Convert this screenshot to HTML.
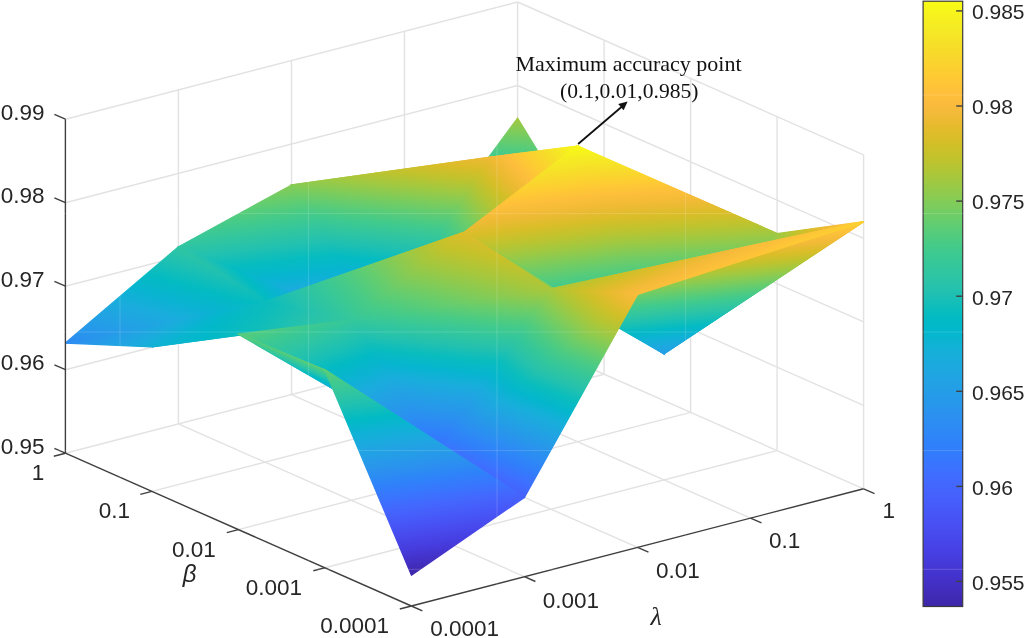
<!DOCTYPE html>
<html><head><meta charset="utf-8"><title>Accuracy surface</title>
<style>
html,body{margin:0;padding:0;background:#fff}
body{width:1025px;height:638px;overflow:hidden}
svg{display:block}
.g{stroke:#e2e2e2;stroke-width:1.4}
.a{stroke:#3f3f3f;stroke-width:1.4}
.t{font-family:"Liberation Sans",Arial,sans-serif;font-size:22.5px;fill:#262626}
.c{font-family:"Liberation Sans",Arial,sans-serif;font-size:21px;fill:#262626}
.s{font-family:"Liberation Serif","Times New Roman",serif;font-size:22px;fill:#111}
.mb{font-family:"Liberation Sans",Arial,sans-serif;font-style:italic;font-size:24px;fill:#262626}
.ml{font-family:"Liberation Serif","Times New Roman",serif;font-style:italic;font-size:26px;fill:#262626}
</style></head><body>
<svg width="1025" height="638" viewBox="0 0 1025 638">
<defs><linearGradient id="g1" gradientUnits="userSpaceOnUse" x1="404.5" y1="271.8" x2="416.9" y2="110.4"><stop offset="0.000" stop-color="#3975fe"/><stop offset="0.083" stop-color="#2e83f9"/><stop offset="0.167" stop-color="#2b90ef"/><stop offset="0.250" stop-color="#259de7"/><stop offset="0.333" stop-color="#1da8e0"/><stop offset="0.417" stop-color="#10b2d5"/><stop offset="0.500" stop-color="#01b9c6"/><stop offset="0.583" stop-color="#1abfb5"/><stop offset="0.667" stop-color="#2fc5a3"/><stop offset="0.750" stop-color="#3fca8e"/><stop offset="0.833" stop-color="#5dcc75"/><stop offset="0.917" stop-color="#7fcc5a"/><stop offset="1.000" stop-color="#a3c83f"/></linearGradient><linearGradient id="g2" gradientUnits="userSpaceOnUse" x1="404.5" y1="271.8" x2="406.8" y2="155.5"><stop offset="0.000" stop-color="#3975fe"/><stop offset="0.067" stop-color="#2e83f9"/><stop offset="0.133" stop-color="#2c90f0"/><stop offset="0.200" stop-color="#259ce7"/><stop offset="0.267" stop-color="#1ea7e1"/><stop offset="0.333" stop-color="#12b1d6"/><stop offset="0.400" stop-color="#01b9c7"/><stop offset="0.467" stop-color="#16bfb7"/><stop offset="0.533" stop-color="#2dc4a6"/><stop offset="0.600" stop-color="#3cc991"/><stop offset="0.667" stop-color="#57cc7a"/><stop offset="0.733" stop-color="#78cc5f"/><stop offset="0.800" stop-color="#9bc944"/><stop offset="0.867" stop-color="#bcc42f"/><stop offset="0.933" stop-color="#d9be28"/><stop offset="1.000" stop-color="#f0ba36"/></linearGradient><linearGradient id="g3" gradientUnits="userSpaceOnUse" x1="404.5" y1="271.8" x2="404.4" y2="157.3"><stop offset="0.000" stop-color="#3975fe"/><stop offset="0.067" stop-color="#2e83f9"/><stop offset="0.133" stop-color="#2c90f0"/><stop offset="0.200" stop-color="#259ce7"/><stop offset="0.267" stop-color="#1ea7e1"/><stop offset="0.333" stop-color="#12b1d6"/><stop offset="0.400" stop-color="#01b9c7"/><stop offset="0.467" stop-color="#16bfb7"/><stop offset="0.533" stop-color="#2dc4a6"/><stop offset="0.600" stop-color="#3cc991"/><stop offset="0.667" stop-color="#57cc7a"/><stop offset="0.733" stop-color="#78cc5f"/><stop offset="0.800" stop-color="#9bc944"/><stop offset="0.867" stop-color="#bcc42f"/><stop offset="0.933" stop-color="#d9be28"/><stop offset="1.000" stop-color="#f0ba36"/></linearGradient><linearGradient id="g4" gradientUnits="userSpaceOnUse" x1="378.0" y1="324.2" x2="395.4" y2="147.7"><stop offset="0.000" stop-color="#2d89f5"/><stop offset="0.071" stop-color="#2895ec"/><stop offset="0.143" stop-color="#23a1e5"/><stop offset="0.214" stop-color="#1babde"/><stop offset="0.286" stop-color="#0ab4d1"/><stop offset="0.357" stop-color="#03bbc3"/><stop offset="0.429" stop-color="#1ec0b2"/><stop offset="0.500" stop-color="#30c5a1"/><stop offset="0.571" stop-color="#40ca8d"/><stop offset="0.643" stop-color="#5dcc75"/><stop offset="0.714" stop-color="#7dcc5b"/><stop offset="0.786" stop-color="#9fc942"/><stop offset="0.857" stop-color="#bec32e"/><stop offset="0.929" stop-color="#dabd28"/><stop offset="1.000" stop-color="#f0ba36"/></linearGradient><linearGradient id="g5" gradientUnits="userSpaceOnUse" x1="378.0" y1="324.2" x2="360.2" y2="176.7"><stop offset="0.000" stop-color="#2d89f5"/><stop offset="0.100" stop-color="#2896ec"/><stop offset="0.200" stop-color="#22a1e4"/><stop offset="0.300" stop-color="#1aacdd"/><stop offset="0.400" stop-color="#07b5d0"/><stop offset="0.500" stop-color="#06bcc0"/><stop offset="0.600" stop-color="#22c1b0"/><stop offset="0.700" stop-color="#33c69e"/><stop offset="0.800" stop-color="#46cb88"/><stop offset="0.900" stop-color="#64cd6f"/><stop offset="1.000" stop-color="#86cb54"/></linearGradient><linearGradient id="g6" gradientUnits="userSpaceOnUse" x1="378.0" y1="324.2" x2="321.7" y2="383.3"><stop offset="0.000" stop-color="#2d89f5"/><stop offset="0.143" stop-color="#2895ec"/><stop offset="0.286" stop-color="#23a0e5"/><stop offset="0.429" stop-color="#1babde"/><stop offset="0.571" stop-color="#0ab4d2"/><stop offset="0.714" stop-color="#02bbc3"/><stop offset="0.857" stop-color="#1dc0b3"/><stop offset="1.000" stop-color="#30c5a2"/></linearGradient><linearGradient id="g7" gradientUnits="userSpaceOnUse" x1="65.4" y1="343.0" x2="97.1" y2="225.0"><stop offset="0.000" stop-color="#2d8bf3"/><stop offset="0.143" stop-color="#2797eb"/><stop offset="0.286" stop-color="#22a2e4"/><stop offset="0.429" stop-color="#1aacdd"/><stop offset="0.571" stop-color="#09b4d1"/><stop offset="0.714" stop-color="#03bbc2"/><stop offset="0.857" stop-color="#1dc0b3"/><stop offset="1.000" stop-color="#30c5a2"/></linearGradient><linearGradient id="g8" gradientUnits="userSpaceOnUse" x1="65.4" y1="343.0" x2="105.2" y2="404.7"><stop offset="0.000" stop-color="#2d8bf3"/><stop offset="0.200" stop-color="#2798ea"/><stop offset="0.400" stop-color="#21a3e3"/><stop offset="0.600" stop-color="#18addb"/><stop offset="0.800" stop-color="#05b6ce"/><stop offset="1.000" stop-color="#08bcbe"/></linearGradient><linearGradient id="g9" gradientUnits="userSpaceOnUse" x1="604.1" y1="259.8" x2="612.8" y2="168.8"><stop offset="0.000" stop-color="#2b91ef"/><stop offset="0.077" stop-color="#259ce7"/><stop offset="0.154" stop-color="#1ea8e1"/><stop offset="0.231" stop-color="#11b1d6"/><stop offset="0.308" stop-color="#01b9c7"/><stop offset="0.385" stop-color="#17bfb7"/><stop offset="0.462" stop-color="#2dc4a5"/><stop offset="0.538" stop-color="#3cc991"/><stop offset="0.615" stop-color="#58cc79"/><stop offset="0.692" stop-color="#79cc5e"/><stop offset="0.769" stop-color="#9cc944"/><stop offset="0.846" stop-color="#bcc42f"/><stop offset="0.923" stop-color="#d9be28"/><stop offset="1.000" stop-color="#f0ba36"/></linearGradient><linearGradient id="g10" gradientUnits="userSpaceOnUse" x1="690.6" y1="199.5" x2="695.6" y2="162.0"><stop offset="0.000" stop-color="#92ca4c"/><stop offset="0.125" stop-color="#b4c534"/><stop offset="0.250" stop-color="#d2bf27"/><stop offset="0.375" stop-color="#ebba32"/><stop offset="0.500" stop-color="#febe3c"/><stop offset="0.625" stop-color="#fdcc32"/><stop offset="0.750" stop-color="#f7dc2a"/><stop offset="0.875" stop-color="#f5eb23"/><stop offset="1.000" stop-color="#f9fa16"/></linearGradient><linearGradient id="g11" gradientUnits="userSpaceOnUse" x1="378.0" y1="324.2" x2="572.2" y2="140.4"><stop offset="0.000" stop-color="#2d89f5"/><stop offset="0.056" stop-color="#2896eb"/><stop offset="0.111" stop-color="#22a2e4"/><stop offset="0.167" stop-color="#19addc"/><stop offset="0.222" stop-color="#06b6ce"/><stop offset="0.278" stop-color="#09bcbe"/><stop offset="0.333" stop-color="#26c2ad"/><stop offset="0.389" stop-color="#35c79a"/><stop offset="0.444" stop-color="#4ccb83"/><stop offset="0.500" stop-color="#6ccd68"/><stop offset="0.556" stop-color="#90ca4d"/><stop offset="0.611" stop-color="#b3c534"/><stop offset="0.667" stop-color="#d1bf27"/><stop offset="0.722" stop-color="#ebba31"/><stop offset="0.778" stop-color="#fdbd3d"/><stop offset="0.833" stop-color="#fdcc32"/><stop offset="0.889" stop-color="#f7db2a"/><stop offset="0.944" stop-color="#f5eb23"/><stop offset="1.000" stop-color="#f9fa16"/></linearGradient><linearGradient id="g12" gradientUnits="userSpaceOnUse" x1="378.0" y1="324.2" x2="352.9" y2="283.1"><stop offset="0.000" stop-color="#2d89f5"/><stop offset="0.056" stop-color="#2896eb"/><stop offset="0.111" stop-color="#22a2e4"/><stop offset="0.167" stop-color="#19addc"/><stop offset="0.222" stop-color="#06b6ce"/><stop offset="0.278" stop-color="#09bcbe"/><stop offset="0.333" stop-color="#26c2ad"/><stop offset="0.389" stop-color="#35c79a"/><stop offset="0.444" stop-color="#4ccb83"/><stop offset="0.500" stop-color="#6ccd68"/><stop offset="0.556" stop-color="#90ca4d"/><stop offset="0.611" stop-color="#b3c534"/><stop offset="0.667" stop-color="#d1bf27"/><stop offset="0.722" stop-color="#ebba31"/><stop offset="0.778" stop-color="#fdbd3d"/><stop offset="0.833" stop-color="#fdcc32"/><stop offset="0.889" stop-color="#f7db2a"/><stop offset="0.944" stop-color="#f5eb23"/><stop offset="1.000" stop-color="#f9fa16"/></linearGradient><linearGradient id="g13" gradientUnits="userSpaceOnUse" x1="378.0" y1="324.2" x2="370.1" y2="241.2"><stop offset="0.000" stop-color="#2d89f5"/><stop offset="0.077" stop-color="#2896ec"/><stop offset="0.154" stop-color="#23a1e4"/><stop offset="0.231" stop-color="#1aacdd"/><stop offset="0.308" stop-color="#08b4d0"/><stop offset="0.385" stop-color="#05bbc1"/><stop offset="0.462" stop-color="#20c1b1"/><stop offset="0.538" stop-color="#32c69f"/><stop offset="0.615" stop-color="#44cb8a"/><stop offset="0.692" stop-color="#61cd71"/><stop offset="0.769" stop-color="#84cc57"/><stop offset="0.846" stop-color="#a5c83d"/><stop offset="0.923" stop-color="#c5c22a"/><stop offset="1.000" stop-color="#dfbc2a"/></linearGradient><linearGradient id="g14" gradientUnits="userSpaceOnUse" x1="264.9" y1="301.8" x2="400.6" y2="167.6"><stop offset="0.000" stop-color="#08bcbe"/><stop offset="0.125" stop-color="#24c1ae"/><stop offset="0.250" stop-color="#34c79c"/><stop offset="0.375" stop-color="#47cb87"/><stop offset="0.500" stop-color="#64cd6f"/><stop offset="0.625" stop-color="#86cb55"/><stop offset="0.750" stop-color="#a7c73c"/><stop offset="0.875" stop-color="#c5c22a"/><stop offset="1.000" stop-color="#dfbc2a"/></linearGradient><linearGradient id="g15" gradientUnits="userSpaceOnUse" x1="151.9" y1="346.9" x2="266.8" y2="433.0"><stop offset="0.000" stop-color="#12b1d6"/><stop offset="0.250" stop-color="#01b8c9"/><stop offset="0.500" stop-color="#0ebdbb"/><stop offset="0.750" stop-color="#27c2ac"/><stop offset="1.000" stop-color="#34c79b"/></linearGradient><linearGradient id="g16" gradientUnits="userSpaceOnUse" x1="151.9" y1="346.9" x2="435.0" y2="308.6"><stop offset="0.000" stop-color="#12b1d6"/><stop offset="0.200" stop-color="#01b9c7"/><stop offset="0.400" stop-color="#16bfb7"/><stop offset="0.600" stop-color="#2dc4a6"/><stop offset="0.800" stop-color="#3cc991"/><stop offset="1.000" stop-color="#57cc7a"/></linearGradient><linearGradient id="g17" gradientUnits="userSpaceOnUse" x1="690.6" y1="199.5" x2="693.5" y2="192.3"><stop offset="0.000" stop-color="#92ca4c"/><stop offset="0.125" stop-color="#b4c534"/><stop offset="0.250" stop-color="#d2bf27"/><stop offset="0.375" stop-color="#ebba32"/><stop offset="0.500" stop-color="#febe3c"/><stop offset="0.625" stop-color="#fdcc32"/><stop offset="0.750" stop-color="#f7dc2a"/><stop offset="0.875" stop-color="#f5eb23"/><stop offset="1.000" stop-color="#f9fa16"/></linearGradient><linearGradient id="g18" gradientUnits="userSpaceOnUse" x1="664.0" y1="353.8" x2="652.4" y2="142.0"><stop offset="0.000" stop-color="#249ee6"/><stop offset="0.059" stop-color="#1ca9e0"/><stop offset="0.118" stop-color="#0eb2d4"/><stop offset="0.176" stop-color="#01bac5"/><stop offset="0.235" stop-color="#19bfb5"/><stop offset="0.294" stop-color="#2ec5a4"/><stop offset="0.353" stop-color="#3dc990"/><stop offset="0.412" stop-color="#59cc78"/><stop offset="0.471" stop-color="#79cc5e"/><stop offset="0.529" stop-color="#9cc944"/><stop offset="0.588" stop-color="#bcc42f"/><stop offset="0.647" stop-color="#d8be28"/><stop offset="0.706" stop-color="#efba35"/><stop offset="0.765" stop-color="#febf3b"/><stop offset="0.824" stop-color="#fdce31"/><stop offset="0.882" stop-color="#f7dd2a"/><stop offset="0.941" stop-color="#f5eb23"/><stop offset="1.000" stop-color="#f9fa16"/></linearGradient><linearGradient id="g19" gradientUnits="userSpaceOnUse" x1="664.0" y1="353.8" x2="639.1" y2="139.0"><stop offset="0.000" stop-color="#249ee6"/><stop offset="0.059" stop-color="#1ca9e0"/><stop offset="0.118" stop-color="#0eb2d4"/><stop offset="0.176" stop-color="#01bac5"/><stop offset="0.235" stop-color="#19bfb5"/><stop offset="0.294" stop-color="#2ec5a4"/><stop offset="0.353" stop-color="#3dc990"/><stop offset="0.412" stop-color="#59cc78"/><stop offset="0.471" stop-color="#79cc5e"/><stop offset="0.529" stop-color="#9cc944"/><stop offset="0.588" stop-color="#bcc42f"/><stop offset="0.647" stop-color="#d8be28"/><stop offset="0.706" stop-color="#efba35"/><stop offset="0.765" stop-color="#febf3b"/><stop offset="0.824" stop-color="#fdce31"/><stop offset="0.882" stop-color="#f7dd2a"/><stop offset="0.941" stop-color="#f5eb23"/><stop offset="1.000" stop-color="#f9fa16"/></linearGradient><linearGradient id="g20" gradientUnits="userSpaceOnUse" x1="664.0" y1="353.8" x2="657.4" y2="363.5"><stop offset="0.000" stop-color="#249ee6"/><stop offset="0.091" stop-color="#1ca9df"/><stop offset="0.182" stop-color="#0db3d3"/><stop offset="0.273" stop-color="#02bac4"/><stop offset="0.364" stop-color="#1cc0b3"/><stop offset="0.455" stop-color="#30c5a1"/><stop offset="0.545" stop-color="#41ca8c"/><stop offset="0.636" stop-color="#5fcd73"/><stop offset="0.727" stop-color="#81cc58"/><stop offset="0.818" stop-color="#a4c83e"/><stop offset="0.909" stop-color="#c4c22b"/><stop offset="1.000" stop-color="#dfbc2a"/></linearGradient><linearGradient id="g21" gradientUnits="userSpaceOnUse" x1="351.4" y1="319.9" x2="377.2" y2="211.5"><stop offset="0.000" stop-color="#34c79b"/><stop offset="0.167" stop-color="#48cb86"/><stop offset="0.333" stop-color="#65cd6e"/><stop offset="0.500" stop-color="#86cb54"/><stop offset="0.667" stop-color="#a7c73c"/><stop offset="0.833" stop-color="#c5c22a"/><stop offset="1.000" stop-color="#dfbc2a"/></linearGradient><linearGradient id="g22" gradientUnits="userSpaceOnUse" x1="437.9" y1="449.2" x2="456.4" y2="278.5"><stop offset="0.000" stop-color="#3f6eff"/><stop offset="0.077" stop-color="#317dfc"/><stop offset="0.154" stop-color="#2d8af4"/><stop offset="0.231" stop-color="#2797eb"/><stop offset="0.308" stop-color="#22a2e4"/><stop offset="0.385" stop-color="#19addc"/><stop offset="0.462" stop-color="#06b5cf"/><stop offset="0.538" stop-color="#08bcbf"/><stop offset="0.615" stop-color="#24c1ae"/><stop offset="0.692" stop-color="#34c79c"/><stop offset="0.769" stop-color="#48cb86"/><stop offset="0.846" stop-color="#66cd6d"/><stop offset="0.923" stop-color="#89cb52"/><stop offset="1.000" stop-color="#abc739"/></linearGradient><linearGradient id="g23" gradientUnits="userSpaceOnUse" x1="437.9" y1="449.2" x2="378.3" y2="283.8"><stop offset="0.000" stop-color="#3f6eff"/><stop offset="0.091" stop-color="#317dfc"/><stop offset="0.182" stop-color="#2d89f5"/><stop offset="0.273" stop-color="#2895ec"/><stop offset="0.364" stop-color="#23a0e5"/><stop offset="0.455" stop-color="#1babde"/><stop offset="0.545" stop-color="#0cb3d2"/><stop offset="0.636" stop-color="#02bac4"/><stop offset="0.727" stop-color="#1bc0b4"/><stop offset="0.818" stop-color="#2ec5a4"/><stop offset="0.909" stop-color="#3dc990"/><stop offset="1.000" stop-color="#57cc7a"/></linearGradient><linearGradient id="g24" gradientUnits="userSpaceOnUse" x1="437.9" y1="449.2" x2="449.3" y2="422.3"><stop offset="0.000" stop-color="#3f6eff"/><stop offset="0.091" stop-color="#317dfc"/><stop offset="0.182" stop-color="#2d8af5"/><stop offset="0.273" stop-color="#2896eb"/><stop offset="0.364" stop-color="#22a1e4"/><stop offset="0.455" stop-color="#1aacdd"/><stop offset="0.545" stop-color="#08b4d1"/><stop offset="0.636" stop-color="#04bbc2"/><stop offset="0.727" stop-color="#1fc1b1"/><stop offset="0.818" stop-color="#31c6a0"/><stop offset="0.909" stop-color="#42ca8b"/><stop offset="1.000" stop-color="#5fcd73"/></linearGradient><linearGradient id="g25" gradientUnits="userSpaceOnUse" x1="664.0" y1="353.8" x2="879.6" y2="257.5"><stop offset="0.000" stop-color="#249ee6"/><stop offset="0.071" stop-color="#1ca9df"/><stop offset="0.143" stop-color="#0eb2d4"/><stop offset="0.214" stop-color="#02bac5"/><stop offset="0.286" stop-color="#1ac0b4"/><stop offset="0.357" stop-color="#2fc5a3"/><stop offset="0.429" stop-color="#3fca8f"/><stop offset="0.500" stop-color="#5bcc76"/><stop offset="0.571" stop-color="#7ccc5c"/><stop offset="0.643" stop-color="#9fc942"/><stop offset="0.714" stop-color="#bfc32d"/><stop offset="0.786" stop-color="#dbbd29"/><stop offset="0.857" stop-color="#f2ba38"/><stop offset="0.929" stop-color="#fec13a"/><stop offset="1.000" stop-color="#fcd030"/></linearGradient><linearGradient id="g26" gradientUnits="userSpaceOnUse" x1="664.0" y1="353.8" x2="863.6" y2="221.6"><stop offset="0.000" stop-color="#249ee6"/><stop offset="0.071" stop-color="#1ca9df"/><stop offset="0.143" stop-color="#0eb2d4"/><stop offset="0.214" stop-color="#02bac5"/><stop offset="0.286" stop-color="#1ac0b4"/><stop offset="0.357" stop-color="#2fc5a3"/><stop offset="0.429" stop-color="#3fca8f"/><stop offset="0.500" stop-color="#5bcc76"/><stop offset="0.571" stop-color="#7ccc5c"/><stop offset="0.643" stop-color="#9fc942"/><stop offset="0.714" stop-color="#bfc32d"/><stop offset="0.786" stop-color="#dbbd29"/><stop offset="0.857" stop-color="#f2ba38"/><stop offset="0.929" stop-color="#fec13a"/><stop offset="1.000" stop-color="#fcd030"/></linearGradient><linearGradient id="g27" gradientUnits="userSpaceOnUse" x1="664.0" y1="353.8" x2="653.4" y2="241.5"><stop offset="0.000" stop-color="#249ee6"/><stop offset="0.071" stop-color="#1ca9df"/><stop offset="0.143" stop-color="#0eb2d4"/><stop offset="0.214" stop-color="#02bac5"/><stop offset="0.286" stop-color="#1ac0b4"/><stop offset="0.357" stop-color="#2fc5a3"/><stop offset="0.429" stop-color="#3fca8f"/><stop offset="0.500" stop-color="#5bcc76"/><stop offset="0.571" stop-color="#7ccc5c"/><stop offset="0.643" stop-color="#9fc942"/><stop offset="0.714" stop-color="#bfc32d"/><stop offset="0.786" stop-color="#dbbd29"/><stop offset="0.857" stop-color="#f2ba38"/><stop offset="0.929" stop-color="#fec13a"/><stop offset="1.000" stop-color="#fcd030"/></linearGradient><linearGradient id="g28" gradientUnits="userSpaceOnUse" x1="551.0" y1="288.8" x2="570.9" y2="338.5"><stop offset="0.000" stop-color="#abc739"/><stop offset="0.200" stop-color="#c8c129"/><stop offset="0.400" stop-color="#e0bc2b"/><stop offset="0.600" stop-color="#f5ba3a"/><stop offset="0.800" stop-color="#fec239"/><stop offset="1.000" stop-color="#fcd030"/></linearGradient><linearGradient id="g29" gradientUnits="userSpaceOnUse" x1="437.9" y1="449.2" x2="588.3" y2="256.1"><stop offset="0.000" stop-color="#3f6eff"/><stop offset="0.062" stop-color="#317dfb"/><stop offset="0.125" stop-color="#2d8bf4"/><stop offset="0.188" stop-color="#2797ea"/><stop offset="0.250" stop-color="#21a3e3"/><stop offset="0.312" stop-color="#18addb"/><stop offset="0.375" stop-color="#05b6cd"/><stop offset="0.438" stop-color="#0abdbd"/><stop offset="0.500" stop-color="#26c2ac"/><stop offset="0.562" stop-color="#35c799"/><stop offset="0.625" stop-color="#4ccb83"/><stop offset="0.688" stop-color="#6ccd69"/><stop offset="0.750" stop-color="#8fcb4e"/><stop offset="0.812" stop-color="#b1c635"/><stop offset="0.875" stop-color="#cfc028"/><stop offset="0.938" stop-color="#e9bb2f"/><stop offset="1.000" stop-color="#fcbc3d"/></linearGradient><linearGradient id="g30" gradientUnits="userSpaceOnUse" x1="524.4" y1="497.4" x2="608.6" y2="283.0"><stop offset="0.000" stop-color="#4660fc"/><stop offset="0.059" stop-color="#3e6fff"/><stop offset="0.118" stop-color="#317efb"/><stop offset="0.176" stop-color="#2d8bf4"/><stop offset="0.235" stop-color="#2797ea"/><stop offset="0.294" stop-color="#21a3e3"/><stop offset="0.353" stop-color="#18aedb"/><stop offset="0.412" stop-color="#04b6cd"/><stop offset="0.471" stop-color="#0abdbd"/><stop offset="0.529" stop-color="#26c2ac"/><stop offset="0.588" stop-color="#36c799"/><stop offset="0.647" stop-color="#4ccb83"/><stop offset="0.706" stop-color="#6ccd68"/><stop offset="0.765" stop-color="#8fcb4e"/><stop offset="0.824" stop-color="#b1c635"/><stop offset="0.882" stop-color="#cfc028"/><stop offset="0.941" stop-color="#e9bb2f"/><stop offset="1.000" stop-color="#fcbc3d"/></linearGradient><linearGradient id="g31" gradientUnits="userSpaceOnUse" x1="524.4" y1="497.4" x2="532.9" y2="481.7"><stop offset="0.000" stop-color="#4660fc"/><stop offset="0.083" stop-color="#3f6eff"/><stop offset="0.167" stop-color="#317dfc"/><stop offset="0.250" stop-color="#2d8af5"/><stop offset="0.333" stop-color="#2896eb"/><stop offset="0.417" stop-color="#22a1e4"/><stop offset="0.500" stop-color="#1aacdd"/><stop offset="0.583" stop-color="#08b4d1"/><stop offset="0.667" stop-color="#04bbc2"/><stop offset="0.750" stop-color="#1fc1b1"/><stop offset="0.833" stop-color="#31c6a0"/><stop offset="0.917" stop-color="#42ca8b"/><stop offset="1.000" stop-color="#5fcd73"/></linearGradient><linearGradient id="g32" gradientUnits="userSpaceOnUse" x1="411.4" y1="575.1" x2="383.3" y2="362.2"><stop offset="0.000" stop-color="#3e26a9"/><stop offset="0.062" stop-color="#4330c5"/><stop offset="0.125" stop-color="#463cde"/><stop offset="0.188" stop-color="#484aed"/><stop offset="0.250" stop-color="#4758f8"/><stop offset="0.312" stop-color="#4466fd"/><stop offset="0.375" stop-color="#3975fe"/><stop offset="0.438" stop-color="#2e83f9"/><stop offset="0.500" stop-color="#2b91ef"/><stop offset="0.562" stop-color="#259de7"/><stop offset="0.625" stop-color="#1da8e0"/><stop offset="0.688" stop-color="#0fb2d5"/><stop offset="0.750" stop-color="#01bac5"/><stop offset="0.812" stop-color="#1bc0b4"/><stop offset="0.875" stop-color="#30c5a2"/><stop offset="0.938" stop-color="#41ca8d"/><stop offset="1.000" stop-color="#5fcd73"/></linearGradient><linearGradient id="cb" x1="0" y1="0" x2="0" y2="1"><stop offset="0.0000" stop-color="#f9fb15"/><stop offset="0.0159" stop-color="#f7f51b"/><stop offset="0.0317" stop-color="#f6ef20"/><stop offset="0.0476" stop-color="#f5e924"/><stop offset="0.0635" stop-color="#f5e327"/><stop offset="0.0794" stop-color="#f7dc2a"/><stop offset="0.0952" stop-color="#fad62d"/><stop offset="0.1111" stop-color="#fccf30"/><stop offset="0.1270" stop-color="#fec934"/><stop offset="0.1429" stop-color="#fec338"/><stop offset="0.1587" stop-color="#febe3c"/><stop offset="0.1746" stop-color="#f8ba3d"/><stop offset="0.1905" stop-color="#f0ba36"/><stop offset="0.2063" stop-color="#e6bb2d"/><stop offset="0.2222" stop-color="#dcbd29"/><stop offset="0.2381" stop-color="#d1bf27"/><stop offset="0.2540" stop-color="#c5c22a"/><stop offset="0.2698" stop-color="#b9c431"/><stop offset="0.2857" stop-color="#abc739"/><stop offset="0.3016" stop-color="#9dc943"/><stop offset="0.3175" stop-color="#8fcb4e"/><stop offset="0.3333" stop-color="#81cc59"/><stop offset="0.3492" stop-color="#72cd64"/><stop offset="0.3651" stop-color="#64cd6f"/><stop offset="0.3810" stop-color="#57cc7a"/><stop offset="0.3968" stop-color="#4acb84"/><stop offset="0.4127" stop-color="#3fca8e"/><stop offset="0.4286" stop-color="#37c897"/><stop offset="0.4444" stop-color="#31c69f"/><stop offset="0.4603" stop-color="#2cc4a7"/><stop offset="0.4762" stop-color="#24c1ae"/><stop offset="0.4921" stop-color="#19bfb6"/><stop offset="0.5079" stop-color="#0bbdbd"/><stop offset="0.5238" stop-color="#02bac3"/><stop offset="0.5397" stop-color="#01b8ca"/><stop offset="0.5556" stop-color="#08b5d0"/><stop offset="0.5714" stop-color="#12b1d6"/><stop offset="0.5873" stop-color="#18addb"/><stop offset="0.6032" stop-color="#1ca9df"/><stop offset="0.6190" stop-color="#20a5e3"/><stop offset="0.6349" stop-color="#23a0e5"/><stop offset="0.6508" stop-color="#259be8"/><stop offset="0.6667" stop-color="#2797eb"/><stop offset="0.6825" stop-color="#2b91ef"/><stop offset="0.6984" stop-color="#2d8cf3"/><stop offset="0.7143" stop-color="#2e87f7"/><stop offset="0.7302" stop-color="#2f81fa"/><stop offset="0.7460" stop-color="#327cfc"/><stop offset="0.7619" stop-color="#3875fe"/><stop offset="0.7778" stop-color="#3e6fff"/><stop offset="0.7937" stop-color="#4269fe"/><stop offset="0.8095" stop-color="#4563fd"/><stop offset="0.8254" stop-color="#465efb"/><stop offset="0.8413" stop-color="#4758f8"/><stop offset="0.8571" stop-color="#4852f4"/><stop offset="0.8730" stop-color="#484df0"/><stop offset="0.8889" stop-color="#4747eb"/><stop offset="0.9048" stop-color="#4741e5"/><stop offset="0.9206" stop-color="#463cde"/><stop offset="0.9365" stop-color="#4537d5"/><stop offset="0.9524" stop-color="#4332cb"/><stop offset="0.9683" stop-color="#422ec0"/><stop offset="0.9841" stop-color="#402ab4"/><stop offset="1.0000" stop-color="#3e26a8"/></linearGradient></defs>
<g><line x1="524.4" y1="576.7" x2="178.4" y2="423.9" class="g"/><line x1="637.5" y1="547.4" x2="291.5" y2="394.6" class="g"/><line x1="750.5" y1="518.1" x2="404.5" y2="365.3" class="g"/><line x1="863.6" y1="488.8" x2="517.6" y2="336.0" class="g"/><line x1="324.9" y1="567.8" x2="777.1" y2="450.6" class="g"/><line x1="238.4" y1="529.6" x2="690.6" y2="412.4" class="g"/><line x1="151.9" y1="491.4" x2="604.1" y2="374.2" class="g"/><line x1="65.4" y1="453.2" x2="517.6" y2="336.0" class="g"/><line x1="178.4" y1="423.9" x2="178.4" y2="89.9" class="g"/><line x1="291.5" y1="394.6" x2="291.5" y2="60.6" class="g"/><line x1="404.5" y1="365.3" x2="404.5" y2="31.3" class="g"/><line x1="517.6" y1="336.0" x2="517.6" y2="2.0" class="g"/><line x1="65.4" y1="369.7" x2="517.6" y2="252.5" class="g"/><line x1="65.4" y1="286.2" x2="517.6" y2="169.0" class="g"/><line x1="65.4" y1="202.7" x2="517.6" y2="85.5" class="g"/><line x1="65.4" y1="119.2" x2="517.6" y2="2.0" class="g"/><line x1="863.6" y1="488.8" x2="863.6" y2="154.8" class="g"/><line x1="777.1" y1="450.6" x2="777.1" y2="116.6" class="g"/><line x1="690.6" y1="412.4" x2="690.6" y2="78.4" class="g"/><line x1="604.1" y1="374.2" x2="604.1" y2="40.2" class="g"/><line x1="517.6" y1="252.5" x2="863.6" y2="405.3" class="g"/><line x1="517.6" y1="169.0" x2="863.6" y2="321.8" class="g"/><line x1="517.6" y1="85.5" x2="863.6" y2="238.3" class="g"/><line x1="517.6" y1="2.0" x2="863.6" y2="154.8" class="g"/></g>
<g opacity="1"><polygon points="604.1,259.8 517.6,118.1 404.5,271.8" fill="url(#g1)" stroke="url(#g1)" stroke-width="1.3"/><polygon points="491.0,157.2 604.1,259.8 404.5,271.8" fill="url(#g2)" stroke="url(#g2)" stroke-width="1.3"/><polygon points="491.0,157.2 404.5,271.8 291.5,185.0" fill="url(#g3)" stroke="url(#g3)" stroke-width="1.3"/><polygon points="378.0,324.2 491.0,157.2 291.5,185.0" fill="url(#g4)" stroke="url(#g4)" stroke-width="1.3"/><polygon points="378.0,324.2 291.5,185.0 178.4,246.9" fill="url(#g5)" stroke="url(#g5)" stroke-width="1.3"/><polygon points="264.9,301.8 378.0,324.2 178.4,246.9" fill="url(#g6)" stroke="url(#g6)" stroke-width="1.3"/><polygon points="264.9,301.8 178.4,246.9 65.4,343.0" fill="url(#g7)" stroke="url(#g7)" stroke-width="1.3"/><polygon points="151.9,346.9 264.9,301.8 65.4,343.0" fill="url(#g8)" stroke="url(#g8)" stroke-width="1.3"/><polygon points="690.6,199.5 604.1,259.8 491.0,157.2" fill="url(#g9)" stroke="url(#g9)" stroke-width="1.3"/><polygon points="577.5,146.1 690.6,199.5 491.0,157.2" fill="url(#g10)" stroke="url(#g10)" stroke-width="1.3"/><polygon points="577.5,146.1 491.0,157.2 378.0,324.2" fill="url(#g11)" stroke="url(#g11)" stroke-width="1.3"/><polygon points="464.5,232.2 577.5,146.1 378.0,324.2" fill="url(#g12)" stroke="url(#g12)" stroke-width="1.3"/><polygon points="464.5,232.2 378.0,324.2 264.9,301.8" fill="url(#g13)" stroke="url(#g13)" stroke-width="1.3"/><polygon points="351.4,319.9 464.5,232.2 264.9,301.8" fill="url(#g14)" stroke="url(#g14)" stroke-width="1.3"/><polygon points="351.4,319.9 264.9,301.8 151.9,346.9" fill="url(#g15)" stroke="url(#g15)" stroke-width="1.3"/><polygon points="238.4,334.2 351.4,319.9 151.9,346.9" fill="url(#g16)" stroke="url(#g16)" stroke-width="1.3"/><polygon points="777.1,233.5 690.6,199.5 577.5,146.1" fill="url(#g17)" stroke="url(#g17)" stroke-width="1.3"/><polygon points="664.0,353.8 777.1,233.5 577.5,146.1" fill="url(#g18)" stroke="url(#g18)" stroke-width="1.3"/><polygon points="664.0,353.8 577.5,146.1 464.5,232.2" fill="url(#g19)" stroke="url(#g19)" stroke-width="1.3"/><polygon points="551.0,288.8 664.0,353.8 464.5,232.2" fill="url(#g20)" stroke="url(#g20)" stroke-width="1.3"/><polygon points="551.0,288.8 464.5,232.2 351.4,319.9" fill="url(#g21)" stroke="url(#g21)" stroke-width="1.3"/><polygon points="437.9,449.2 551.0,288.8 351.4,319.9" fill="url(#g22)" stroke="url(#g22)" stroke-width="1.3"/><polygon points="437.9,449.2 351.4,319.9 238.4,334.2" fill="url(#g23)" stroke="url(#g23)" stroke-width="1.3"/><polygon points="324.9,369.9 437.9,449.2 238.4,334.2" fill="url(#g24)" stroke="url(#g24)" stroke-width="1.3"/><polygon points="863.6,221.6 777.1,233.5 664.0,353.8" fill="url(#g25)" stroke="url(#g25)" stroke-width="1.3"/><polygon points="863.6,221.6 863.6,221.6 664.0,353.8" fill="url(#g26)" stroke="url(#g26)" stroke-width="1.3"/><polygon points="863.6,221.6 664.0,353.8 551.0,288.8" fill="url(#g27)" stroke="url(#g27)" stroke-width="1.3"/><polygon points="637.5,294.4 863.6,221.6 551.0,288.8" fill="url(#g28)" stroke="url(#g28)" stroke-width="1.3"/><polygon points="637.5,294.4 551.0,288.8 437.9,449.2" fill="url(#g29)" stroke="url(#g29)" stroke-width="1.3"/><polygon points="524.4,497.4 637.5,294.4 437.9,449.2" fill="url(#g30)" stroke="url(#g30)" stroke-width="1.3"/><polygon points="524.4,497.4 437.9,449.2 324.9,369.9" fill="url(#g31)" stroke="url(#g31)" stroke-width="1.3"/><polygon points="411.4,575.1 524.4,497.4 324.9,369.9" fill="url(#g32)" stroke="url(#g32)" stroke-width="1.3"/></g>
<g><line x1="65.4" y1="453.2" x2="65.4" y2="119.2" class="a"/><line x1="411.4" y1="606.0" x2="65.4" y2="453.2" class="a"/><line x1="411.4" y1="606.0" x2="863.6" y2="488.8" class="a"/><line x1="65.4" y1="453.2" x2="54.4" y2="448.4" class="a"/><line x1="65.4" y1="369.7" x2="54.4" y2="364.9" class="a"/><line x1="65.4" y1="286.2" x2="54.4" y2="281.4" class="a"/><line x1="65.4" y1="202.7" x2="54.4" y2="197.9" class="a"/><line x1="65.4" y1="119.2" x2="54.4" y2="114.4" class="a"/><line x1="411.4" y1="606.0" x2="399.8" y2="609.0" class="a"/><line x1="324.9" y1="567.8" x2="313.3" y2="570.8" class="a"/><line x1="238.4" y1="529.6" x2="226.8" y2="532.6" class="a"/><line x1="151.9" y1="491.4" x2="140.3" y2="494.4" class="a"/><line x1="65.4" y1="453.2" x2="53.8" y2="456.2" class="a"/><line x1="411.4" y1="606.0" x2="422.4" y2="610.8" class="a"/><line x1="524.4" y1="576.7" x2="535.4" y2="581.5" class="a"/><line x1="637.5" y1="547.4" x2="648.5" y2="552.2" class="a"/><line x1="750.5" y1="518.1" x2="761.5" y2="522.9" class="a"/><line x1="863.6" y1="488.8" x2="874.6" y2="493.6" class="a"/></g>
<g><rect x="923.1" y="1.2" width="39.6" height="605.3" fill="url(#cb)" stroke="#3a3a3a" stroke-width="1.2"/><line x1="956.2" y1="581.4" x2="962.7" y2="581.4" class="a"/><line x1="956.2" y1="486.4" x2="962.7" y2="486.4" class="a"/><line x1="956.2" y1="391.3" x2="962.7" y2="391.3" class="a"/><line x1="956.2" y1="296.2" x2="962.7" y2="296.2" class="a"/><line x1="956.2" y1="201.1" x2="962.7" y2="201.1" class="a"/><line x1="956.2" y1="106.0" x2="962.7" y2="106.0" class="a"/><line x1="956.2" y1="10.9" x2="962.7" y2="10.9" class="a"/></g>
<g stroke="#fff" stroke-opacity=".14" stroke-width="1.2"><line x1="120.0" y1="0" x2="120.0" y2="638"/><line x1="308.5" y1="0" x2="308.5" y2="638"/><line x1="497.0" y1="0" x2="497.0" y2="638"/><line x1="685.5" y1="0" x2="685.5" y2="638"/><line x1="874.0" y1="0" x2="874.0" y2="638"/><line x1="0" y1="95.0" x2="1025" y2="95.0"/><line x1="0" y1="213.5" x2="1025" y2="213.5"/><line x1="0" y1="332.0" x2="1025" y2="332.0"/><line x1="0" y1="450.5" x2="1025" y2="450.5"/><line x1="0" y1="569.3" x2="1025" y2="569.3"/></g>
<line x1="578.1" y1="144.0" x2="623.5" y2="105.2" stroke="#111" stroke-width="1.8"/>
<polygon points="627.6,101.6 623.6,110.2 618.2,103.9" fill="#111"/>
<g><text class="t" x="0.8" y="119.6">0.99</text><text class="t" x="0.8" y="203.1">0.98</text><text class="t" x="0.8" y="286.6">0.97</text><text class="t" x="0.8" y="370.1">0.96</text><text class="t" x="0.8" y="453.6">0.95</text><text class="t" x="31.8" y="480.3">1</text><text class="t" x="98.8" y="518.4">0.1</text><text class="t" x="172.1" y="556.5">0.01</text><text class="t" x="245.7" y="594.9">0.001</text><text class="t" x="320.2" y="633.2">0.0001</text><text class="t" x="430.2" y="635.9">0.0001</text><text class="t" x="542.7" y="607.6">0.001</text><text class="t" x="655.9" y="577.6">0.01</text><text class="t" x="769.0" y="548.3">0.1</text><text class="t" x="882.4" y="518.2">1</text><text class="mb" x="182.7" y="582.0">β</text><text class="ml" x="650.5" y="625.0">λ</text><text class="s" x="515.5" y="71.3">Maximum accuracy point</text><text class="s" x="560.0" y="97.7" textLength="138.5" lengthAdjust="spacingAndGlyphs">(0.1,0.01,0.985)</text><text class="c" x="972.0" y="19.2">0.985</text><text class="c" x="972.0" y="114.3">0.98</text><text class="c" x="972.0" y="209.4">0.975</text><text class="c" x="972.0" y="304.5">0.97</text><text class="c" x="972.0" y="399.6">0.965</text><text class="c" x="972.0" y="494.7">0.96</text><text class="c" x="972.0" y="589.8">0.955</text></g>
</svg>
</body></html>
